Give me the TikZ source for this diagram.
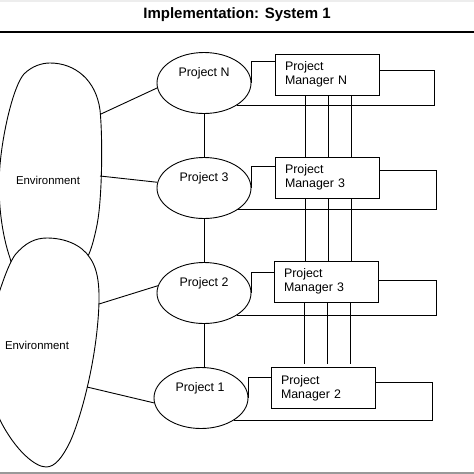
\documentclass[tikz,border=0pt]{standalone}
\usepackage{fontspec}
\setmainfont{Liberation Sans}
\usetikzlibrary{shapes.geometric,calc}
\newcommand{\lblfont}{\fontsize{12.4}{14}\selectfont}
\newcommand{\envfont}{\fontsize{11.4}{13}\selectfont}

\begin{document}
\begin{tikzpicture}[x=1pt,y=-1pt,line width=0.9pt,
    proj/.style={draw,ellipse,minimum width=94,minimum height=61,inner sep=0pt},
    projtext/.style={font=\lblfont,inner sep=0pt},
    pm/.style={draw,minimum width=104,minimum height=41,align=left,text width=84,inner xsep=10pt,font=\lblfont},
    envtext/.style={font=\envfont,inner sep=0pt},
    blob/.style={draw,fill=white}]
                \useasboundingbox (0,0) rectangle (474,474);
                \fill [black!7] (0,0) rectangle (474,2);
                \fill [black!40] (0,472) rectangle (474,474);
                \node [font=\bfseries\fontsize{15}{18}\selectfont] (title) at (237,15) {Implementation: System 1};
                \coordinate (ruleL) at (0,32);
                \coordinate (ruleR) at (474,32);
                \draw [line width=2pt] (ruleL) -- (ruleR);
                \begin{scope}
                \clip (0,33) rectangle (474,472);
                \draw [blob] (50,63) .. controls (75,63) and (96,80) .. (100,110)
                    .. controls (103,140) and (102,200) .. (97,225)
                    .. controls (94,240) and (91,250) .. (88,256)
                    .. controls (80,285) and (60,295) .. (45,295)
                    .. controls (30,295) and (15,280) .. (10,258)
                    .. controls (2,235) and (-3,200) .. (0,165)
                    .. controls (3,130) and (14,85) .. (24,74)
                    .. controls (32,66) and (42,63) .. (50,63) -- cycle;
                \draw [blob] (47,238) .. controls (65,238) and (82,245) .. (90,258)
                    .. controls (100,272) and (100,295) .. (98,320)
                    .. controls (94,370) and (80,420) .. (70,442)
                    .. controls (62,458) and (55,467) .. (46,467)
                    .. controls (35,467) and (15,450) .. (0,420)
                    .. controls (-12,390) and (-12,320) .. (0,290)
                    .. controls (5,275) and (10,262) .. (15,255)
                    .. controls (25,243) and (35,238) .. (47,238) -- cycle;
                \end{scope}
                \node [envtext] (envA) at (48,180) {Environment};
                \node [envtext] (envB) at (37,345) {Environment};
                \coordinate (eA1) at (101,114);
                \coordinate (eA2) at (100,176);
                \coordinate (eB1) at (99,304);
                \coordinate (eB2) at (87,387);
                \node [proj] (pN) at (204,83) {};
                \node [proj] (p3) at (204,188) {};
                \node [proj] (p2) at (204,293) {};
                \node [proj] (p1) at (201,398) {};
                \node [projtext] (tN) at (204,73) {Project N};
                \node [projtext] (t3) at (204,178) {Project 3};
                \node [projtext] (t2) at (204,283) {Project 2};
                \node [projtext] (t1) at (200,388) {Project 1};
                \node [pm] (pmN) at (327,74.5) {Project\\Manager N};
                \node [pm] (pm3a) at (327,177.5) {Project\\Manager 3};
                \node [pm] (pm3b) at (326,281.5) {Project\\Manager 3};
                \node [pm] (pm2) at (323,388) {Project\\Manager 2};
                \draw (eA1) -- (pN.186);
                \draw (eA2) -- (p3.173);
                \draw (eB1) -- (p2.171);
                \draw (eB2) -- (p1.186);
                \draw (pN.south) -- (p3.north);
                \draw (p3.south) -- (p2.north);
                \draw (p2.south) -- (p2.south |- p1.north);
                \draw (pN.east) |- ([yshift=-8pt]pmN.north west);
                \draw (p3.east) |- ([yshift=-10pt]pm3a.north west);
                \draw (p2.east) |- ([yshift=-12pt]pm3b.north west);
                \draw (p1.east) |- ([yshift=-10pt]pm2.north west);
                \draw ([yshift=-17pt]pmN.north east) -- ++(55,0) |- (pN.-34);
                \draw ([yshift=-14pt]pm3a.north east) -- ++(57,0) |- (p3.-32);
                \draw ([yshift=-20pt]pm3b.north east) -- ++(58,0) |- (p2.-34);
                \draw ([yshift=-15pt]pm2.north east) -- ++(57,0) |- (p1.-34);
                \foreach \dx in {31,54,77} {
                    \draw ([xshift=\dx pt]pmN.south west) -- ([xshift=\dx pt]pmN.south west |- pm3a.north);
                    \draw ([xshift=\dx pt]pm3a.south west) -- ([xshift=\dx pt]pm3a.south west |- pm3b.north);
                    \draw ([xshift=\dx pt]pm3b.south west) -- ([xshift=\dx pt,yshift=3pt]pm3b.south west |- pm2.north);
                }
            \end{tikzpicture}
\end{document}
